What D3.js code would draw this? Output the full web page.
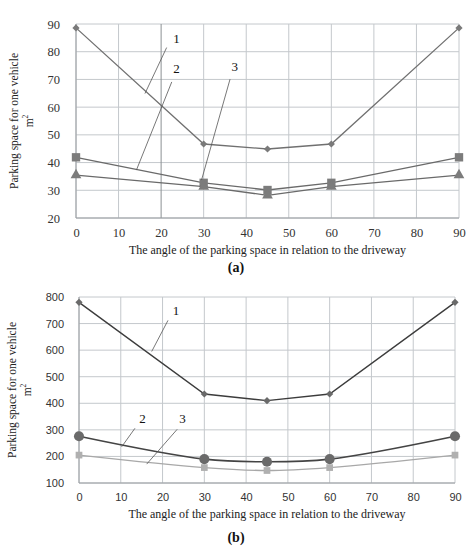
<!DOCTYPE html>
<html>
<head>
<meta charset="utf-8">
<script src="https://cdn.jsdelivr.net/npm/d3@7"></script>
<style>
body { margin: 0; background: #fff; }
svg { display: block; }
</style>
</head>
<body>
<svg id="chart" width="469" height="550"></svg>
<script>
// angles shared by both panels
var angles = [0, 30, 45, 60, 90]
var xTicks = [0, 10, 20, 30, 40, 50, 60, 70, 80, 90]

// panel (a)
var aSeries1 = [88.6, 46.7, 44.9, 46.7, 88.6]
var aSeries2 = [41.9, 32.7, 30.1, 32.7, 41.9]
var aSeries3 = [35.5, 31.3, 28.2, 31.3, 35.5]
var aYTicks = [20, 30, 40, 50, 60, 70, 80, 90]

// panel (b)
var bSeries1 = [780, 435, 410, 435, 780]
var bSeries2 = [276, 190, 180, 190, 276]
var bSeries3 = [205, 158, 147, 158, 205]
var bYTicks = [100, 200, 300, 400, 500, 600, 700, 800]

var yTitle = "Parking space for one vehicle"
var xTitle = "The angle of the parking space in relation to the driveway"

var svg = d3.select("#chart")

function panel(opt) {
	var g = svg.append("g")
	var x = d3.scaleLinear().domain([0, 90]).range([opt.left, opt.right])
	var y = d3.scaleLinear().domain(opt.yDomain).range([opt.bottom, opt.top])

	// grid
	g.selectAll(".hgrid")
		.data(opt.yTicks)
		.enter().append("line")
		.attr("x1", opt.left).attr("x2", opt.right)
		.attr("y1", function(d) { return y(d) }).attr("y2", function(d) { return y(d) })
		.attr("stroke", "#c4c8cc").attr("stroke-width", 1)
	g.selectAll(".vgrid")
		.data(xTicks)
		.enter().append("line")
		.attr("x1", function(d) { return x(d) }).attr("x2", function(d) { return x(d) })
		.attr("y1", opt.top).attr("y2", opt.bottom)
		.attr("stroke", function(d) { return d == opt.darkX ? "#8c9094" : "#c4c8cc" })
		.attr("stroke-width", 1)

	// axes, text only (lines are the grid)
	var yAxis = g.append("g")
		.attr("transform", "translate(" + opt.left + ",0)")
		.call(d3.axisLeft(y).tickValues(opt.yTicks).tickSize(0).tickPadding(opt.yPad))
	var xAxis = g.append("g")
		.attr("transform", "translate(0," + opt.bottom + ")")
		.call(d3.axisBottom(x).tickValues(xTicks).tickSize(0).tickPadding(opt.xPad))
	;[yAxis, xAxis].forEach(function(a) {
		a.select(".domain").remove()
		a.attr("font-family", opt.tickFont).attr("font-size", opt.tickSize)
		a.selectAll("text").attr("fill", "#333")
	})
	g.append("line")
		.attr("x1", opt.left).attr("x2", opt.left)
		.attr("y1", opt.top).attr("y2", opt.bottom)
		.attr("stroke", "#9a9ea2")
	g.append("line")
		.attr("x1", opt.left).attr("x2", opt.right)
		.attr("y1", opt.bottom).attr("y2", opt.bottom)
		.attr("stroke", "#9a9ea2")

	// series
	opt.series.forEach(function(s) {
		var pts = angles.map(function(a, i) { return [a, s.values[i]] })
		g.append("path")
			.datum(pts)
			.attr("fill", "none")
			.attr("stroke", s.stroke)
			.attr("stroke-width", s.width)
			.attr("d", d3.line()
				.x(function(d) { return x(d[0]) })
				.y(function(d) { return y(d[1]) })
				.curve(s.smooth ? d3.curveCatmullRom.alpha(0.5) : d3.curveLinear))
		g.selectAll(null)
			.data(pts)
			.enter().append("path")
			.attr("transform", function(d) {
				return "translate(" + x(d[0]) + "," + y(d[1]) + ")" + (s.rotate ? " rotate(45)" : "")
			})
			.attr("d", d3.symbol().type(s.symbol).size(s.size))
			.attr("fill", s.fill)
	})

	// numbered leaders
	opt.labels.forEach(function(l) {
		g.append("line")
			.attr("x1", x(l.from[0])).attr("y1", y(l.from[1]))
			.attr("x2", x(l.to[0])).attr("y2", y(l.to[1]))
			.attr("stroke", "#555").attr("stroke-width", 0.8)
		g.append("text")
			.attr("x", x(l.at[0])).attr("y", y(l.at[1]))
			.attr("text-anchor", "middle")
			.attr("dominant-baseline", "central")
			.attr("font-family", "Liberation Serif, serif")
			.attr("font-size", 13)
			.attr("fill", "#111")
			.text(l.text)
	})

	// titles
	var cy = (opt.top + opt.bottom) / 2
	var yt = g.append("text")
		.attr("transform", "translate(" + opt.yTitleX + "," + cy + ") rotate(-90)")
		.attr("text-anchor", "middle")
		.attr("font-family", "Liberation Serif, serif")
		.attr("font-size", 11.5)
		.attr("fill", "#222")
	yt.append("tspan").attr("x", 0).attr("dy", 0).text(yTitle)
	yt.append("tspan").attr("x", 0).attr("dy", 15).text("m")
	yt.append("tspan").attr("font-size", 7.5).attr("dy", -5).text("2")

	g.append("text")
		.attr("x", (opt.left + opt.right) / 2)
		.attr("y", opt.xTitleY)
		.attr("text-anchor", "middle")
		.attr("font-family", "Liberation Serif, serif")
		.attr("font-size", 12)
		.attr("fill", "#222")
		.text(xTitle)

	g.append("text")
		.attr("x", 236)
		.attr("y", opt.capY)
		.attr("text-anchor", "middle")
		.attr("font-family", "Liberation Serif, serif")
		.attr("font-weight", "bold")
		.attr("font-size", 14)
		.attr("fill", "#111")
		.text(opt.cap)
}

panel({
	left: 76, right: 459, top: 24, bottom: 218, darkX: 20,
	yDomain: [20, 90], yTicks: aYTicks,
	tickFont: "Liberation Serif, serif", tickSize: 12.5, yPad: 16, xPad: 10,
	yTitleX: 18, xTitleY: 254, capY: 272, cap: "(a)",
	series: [
		{values: aSeries1, stroke: "#707070", width: 1.3, symbol: d3.symbolSquare, rotate: true, size: 26, fill: "#7a7a7a"},
		{values: aSeries2, stroke: "#6a6a6a", width: 1.3, symbol: d3.symbolSquare, size: 70, fill: "#7c7c7c"},
		{values: aSeries3, stroke: "#6a6a6a", width: 1.3, symbol: d3.symbolTriangle, size: 50, fill: "#7c7c7c"}
	],
	labels: [
		{text: "1", at: [23.6, 84.6], from: [21.3, 81.5], to: [16.2, 64.9]},
		{text: "2", at: [23.6, 73.8], from: [22.5, 69.1], to: [14.2, 37.3]},
		{text: "3", at: [37.3, 74.5], from: [36.2, 70.1], to: [29.5, 33.7]}
	]
})

panel({
	left: 79, right: 455, top: 297, bottom: 483, darkX: null,
	yDomain: [100, 800], yTicks: bYTicks,
	tickFont: "Liberation Sans, Arial, sans-serif", tickSize: 11, yPad: 15, xPad: 10,
	yTitleX: 16, xTitleY: 518, capY: 542, cap: "(b)",
	series: [
		{values: bSeries1, stroke: "#3c3c3c", width: 1.4, symbol: d3.symbolSquare, rotate: true, size: 26, fill: "#6a6a6a"},
		{values: bSeries2, stroke: "#444", width: 1.6, symbol: d3.symbolCircle, size: 80, fill: "#6a6a6a", smooth: true},
		{values: bSeries3, stroke: "#a8a8a8", width: 1.4, symbol: d3.symbolSquare, size: 45, fill: "#b0b0b0", smooth: true}
	],
	labels: [
		{text: "1", at: [23.2, 749], from: [21.3, 712], to: [17.4, 595]},
		{text: "2", at: [15.2, 343], from: [13.4, 306], to: [10.2, 236]},
		{text: "3", at: [24.8, 343], from: [23.5, 302], to: [16.2, 171]}
	]
})
</script>
</body>
</html>
